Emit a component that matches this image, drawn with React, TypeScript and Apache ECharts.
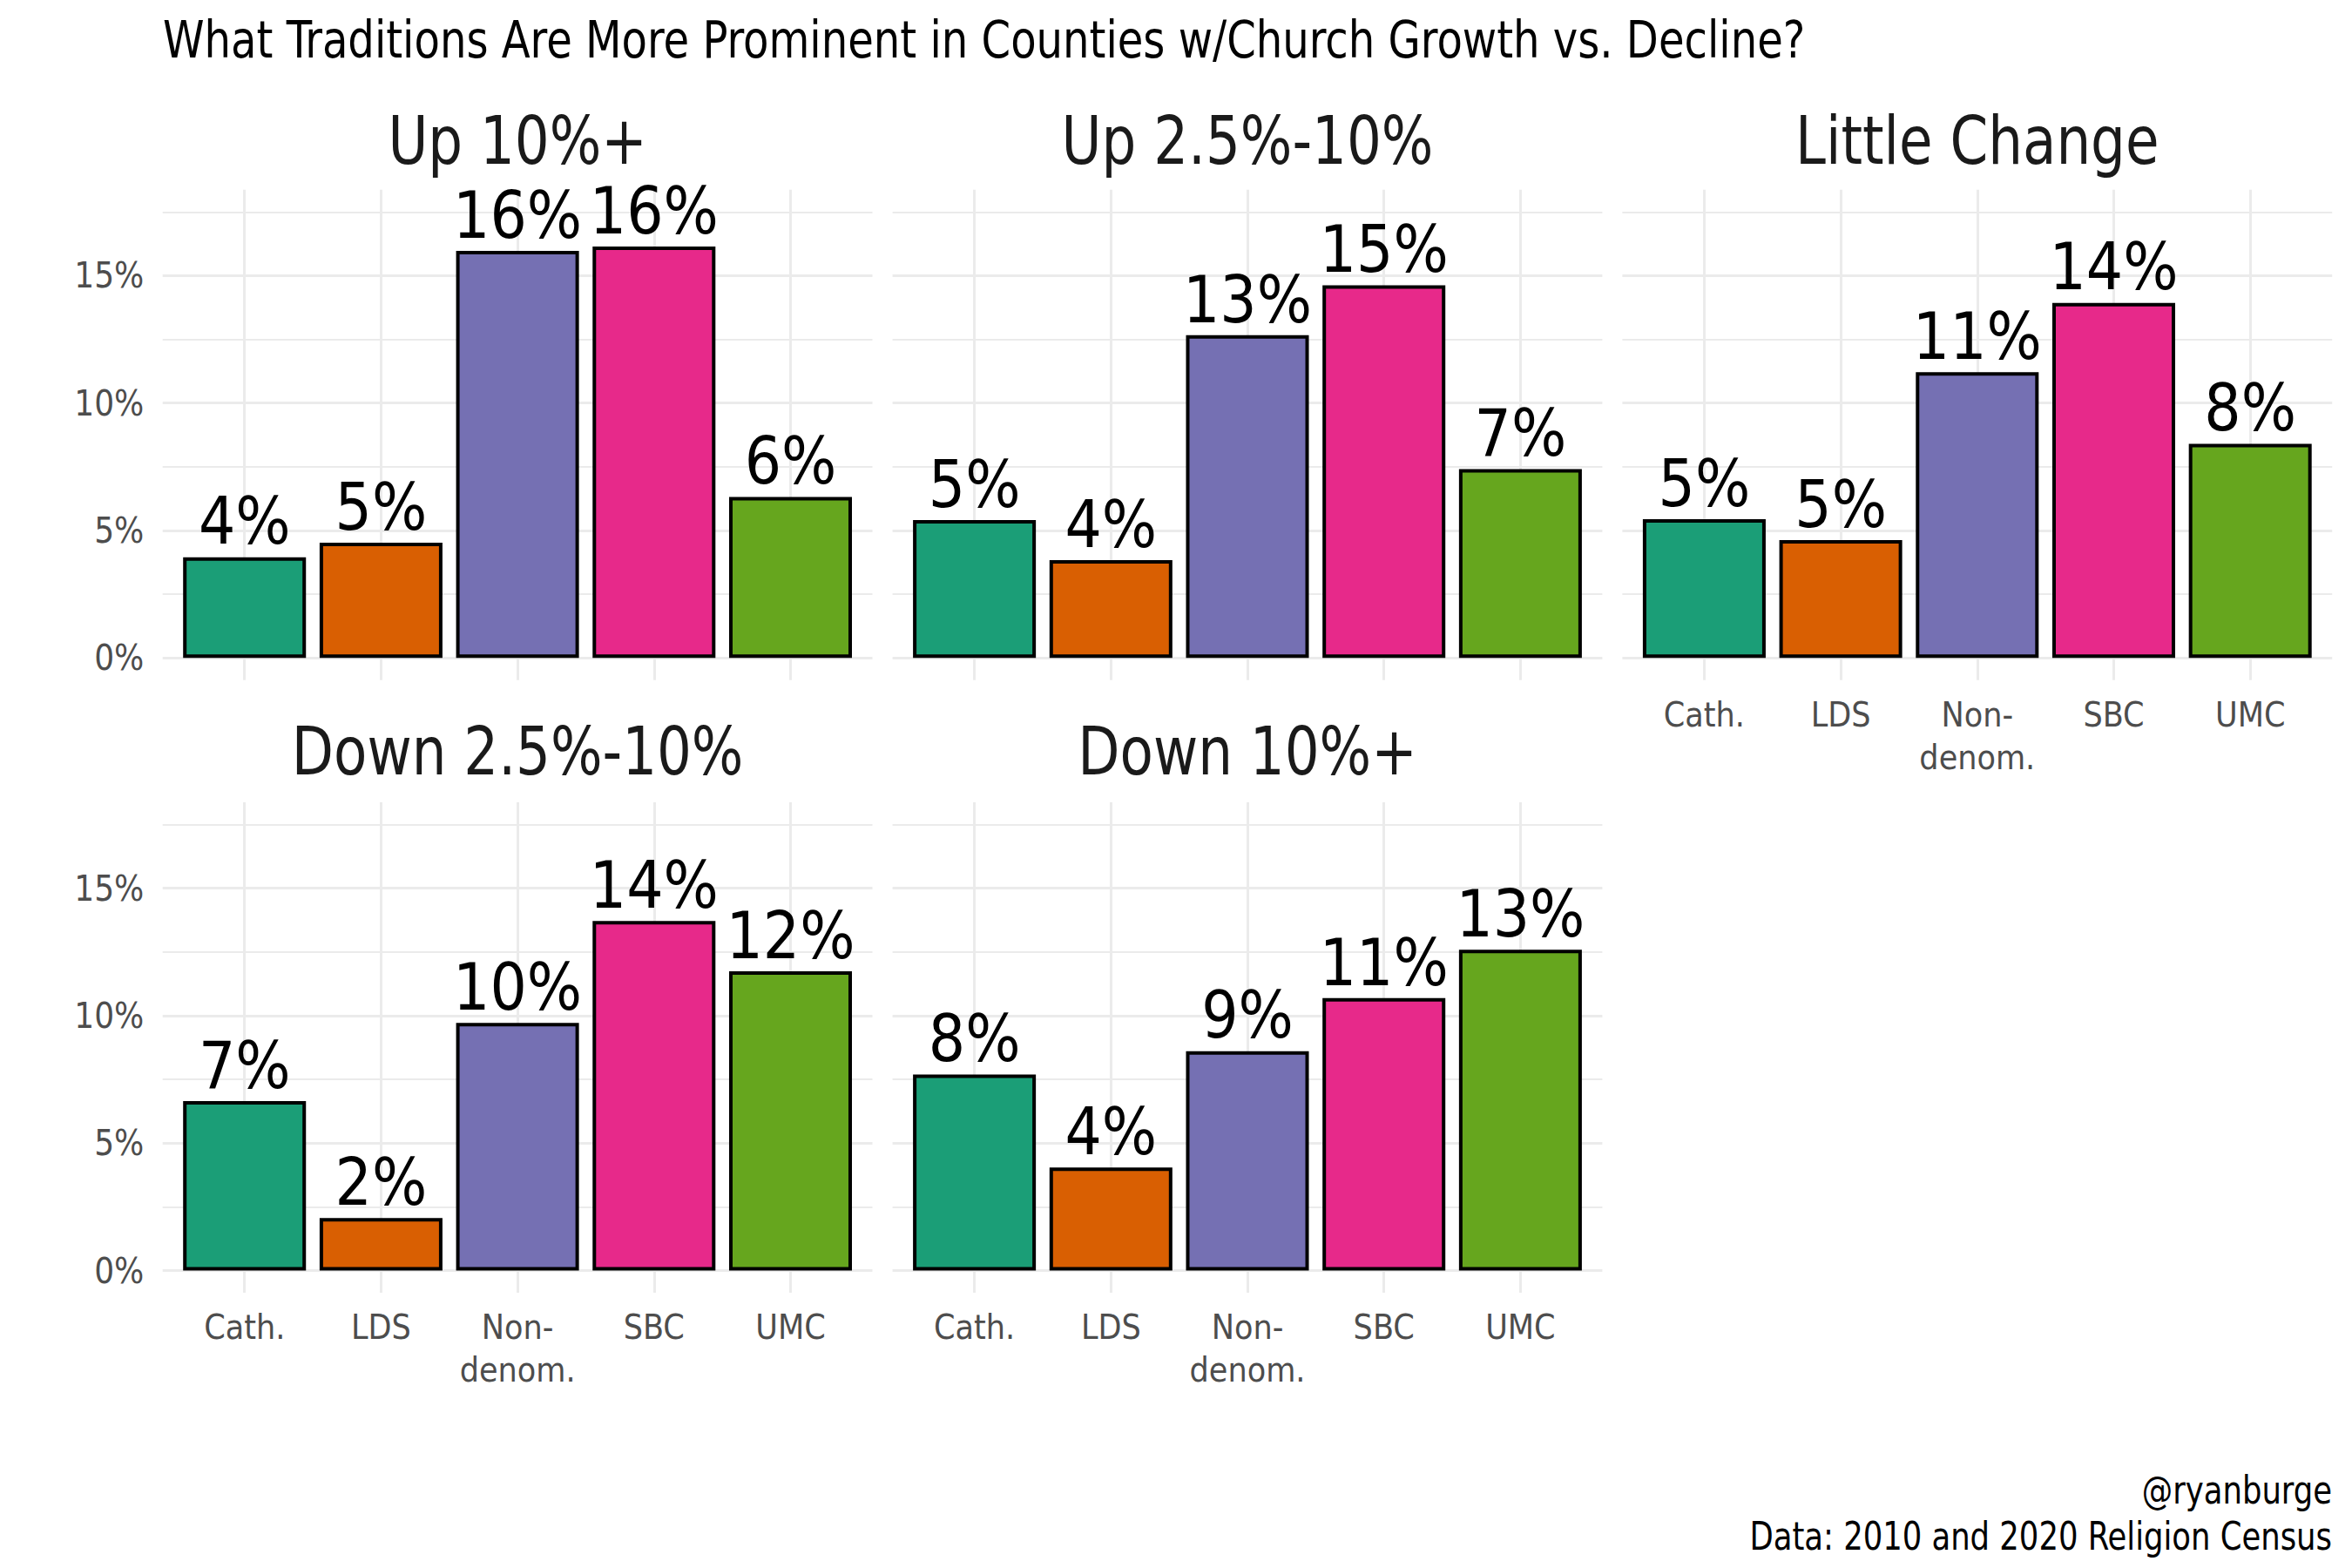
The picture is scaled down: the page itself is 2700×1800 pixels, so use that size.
import React, { useEffect, useRef } from "react";
import * as echarts from "echarts";

// ---------- data ----------
const categories = ["Cath.", "LDS", "Non-\ndenom.", "SBC", "UMC"];
const panelTitles = ["Up 10%+", "Up 2.5%-10%", "Little Change", "Down 2.5%-10%", "Down 10%+"];
const upTen = [3.95, 4.52, 15.97, 16.14, 6.31];
const upTwoFive = [5.41, 3.84, 12.66, 14.62, 7.41];
const littleChange = [5.44, 4.62, 11.21, 13.93, 8.4];
const downTwoFive = [6.65, 2.06, 9.72, 13.72, 11.74];
const downTen = [7.69, 4.04, 8.61, 10.69, 12.59];
const yTicks = [0, 5, 10, 15];
const yMinorTicks = [2.5, 7.5, 12.5, 17.5];
const xPositions = [1, 2, 3, 4, 5];
const barColors = ["#1B9E77", "#D95F02", "#7570B3", "#E7298A", "#66A61E"];
const titleText = "What Traditions Are More Prominent in Counties w/Church Growth vs. Decline?";
const captionLines = ["@ryanburge", "Data: 2010 and 2020 Religion Census"];

const panelValues = [upTen, upTwoFive, littleChange, downTwoFive, downTen];

// ---------- layout ----------
const FONT = "'DejaVu Sans Condensed', 'DejaVu Sans', sans-serif";
const colLeft = [186.7, 1024.6, 1862.4];
const panelW = 814.8;
const rowTop = [217.7, 921.0];
const panelH = 563.1;
const GRID = "#EBEBEB";
const CENTRAL = 0.346;

export default function App() {
  const ref = useRef<HTMLDivElement>(null);
  useEffect(() => {
    if (!ref.current) return;
    const chart = echarts.init(ref.current, null, { renderer: "svg" });

    const grid: any[] = [];
    const xAxis: any[] = [];
    const yAxis: any[] = [];
    const series: any[] = [];
    const graphics: any[] = [];

    panelValues.forEach((vals, i) => {
      const col = i % 3;
      const row = Math.floor(i / 3);
      const showX = i >= 2;
      const showY = col === 0;
      grid.push({ left: colLeft[col], top: rowTop[row], width: panelW, height: panelH });
      xAxis.push({
        type: "value",
        gridIndex: i,
        min: 0.4,
        max: 5.6,
        axisLine: { show: false },
        axisTick: { show: false, customValues: xPositions },
        axisLabel: {
          show: showX,
          customValues: xPositions,
          formatter: (v: number) => categories[Math.round(v) - 1] ?? "",
          fontSize: 39,
          lineHeight: 48.5,
          color: "#4D4D4D",
          fontFamily: FONT,
          margin: 15.5,
        },
        splitLine: { show: true, lineStyle: { color: GRID, width: 3 } },
      });
      yAxis.push({
        type: "value",
        gridIndex: i,
        min: -0.875,
        max: 18.375,
        axisLine: { show: false },
        axisTick: { show: false, customValues: yTicks },
        axisLabel: {
          show: showY,
          customValues: yTicks,
          formatter: (v: number) => `${v}%`,
          fontSize: 40,
          color: "#4D4D4D",
          fontFamily: FONT,
          margin: 21.4,
        },
        splitLine: { show: true, lineStyle: { color: GRID, width: 3 } },
      });
      yAxis.push({
        type: "value",
        gridIndex: i,
        position: "left",
        min: -0.875,
        max: 18.375,
        axisLine: { show: false },
        axisTick: { show: false, customValues: yMinorTicks },
        axisLabel: { show: false, customValues: yMinorTicks },
        splitLine: { show: true, lineStyle: { color: GRID, width: 2 } },
      });
      series.push({
        type: "bar",
        xAxisIndex: i,
        yAxisIndex: i * 2,
        barWidth: "90%",
        silent: true,
        z: 3,
        data: vals.map((v, j) => ({ value: [xPositions[j], v], itemStyle: { color: barColors[j] } })),
        itemStyle: { borderColor: "#000000", borderWidth: 4 },
        label: {
          show: true,
          position: "top",
          distance: 4.3,
          fontSize: 74,
          lineHeight: 74,
          color: "#000000",
          fontFamily: FONT,
          formatter: (p: any) => `${Math.round(p.value[1])}%`,
        },
      });
      graphics.push({
        type: "text",
        x: colLeft[col] + panelW / 2,
        y: (row === 0 ? 187.8 : 889.4) - CENTRAL * 77,
        scaleX: 0.905,
        style: {
          text: panelTitles[i],
          fontSize: 77,
          fontFamily: FONT,
          fill: "#1A1A1A",
          align: "center",
          verticalAlign: "middle",
        },
      });
    });

    graphics.push({
      type: "text",
      x: 187,
      y: 65.8 - CENTRAL * 58,
      scaleX: 0.922,
      style: { text: titleText, fontSize: 58, fontFamily: FONT, fill: "#000000", align: "left", verticalAlign: "middle" },
    });
    const capBase = [1726, 1779];
    captionLines.forEach((t, k) => {
      graphics.push({
        type: "text",
        x: 2677,
        y: capBase[k] - CENTRAL * 45,
        scaleX: 0.875,
        style: { text: t, fontSize: 45, fontFamily: FONT, fill: "#000000", align: "right", verticalAlign: "middle" },
      });
    });

    chart.setOption({
      animation: false,
      backgroundColor: "#FFFFFF",
      grid,
      xAxis,
      yAxis,
      series,
      graphic: graphics,
    });
    return () => chart.dispose();
  }, []);

  return (
    <div
      ref={ref}
      style={{ position: "fixed", left: 0, top: 0, width: 2700, height: 1800, background: "#FFFFFF" }}
    />
  );
}
